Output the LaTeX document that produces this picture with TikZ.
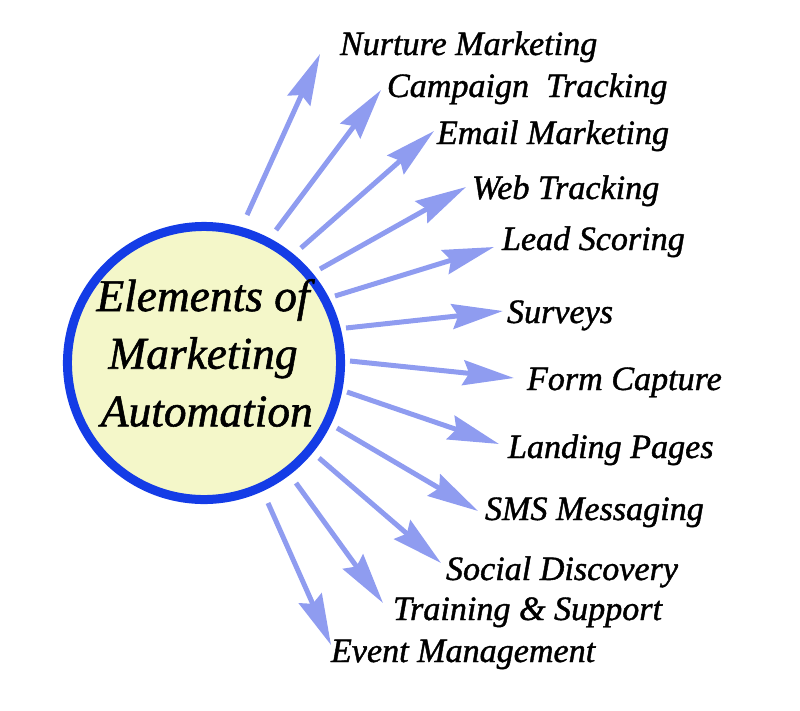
\documentclass[tikz,border=0pt]{standalone}
\usepackage{fontspec}
\setmainfont{Liberation Serif}[ItalicFeatures = {FakeBold = 1.2}]
\usetikzlibrary{arrows.meta}
\definecolor{ringblue}{HTML}{143CE6}
\definecolor{hubfill}{HTML}{F4F7C9}
\definecolor{spokeblue}{HTML}{8F9CF0}
\tikzset{
    hub/.style = {circle, draw = ringblue, fill = hubfill, line width = 0.225cm, minimum size = 6.825cm, inner sep = 0, outer sep = 0},
    hubtext/.style = {inner sep = 0, outer sep = 0, align = center, font = \fontsize{32.3}{41}\selectfont\itshape},
    item/.style = {anchor = base west, inner sep = 0, outer sep = 0, font = \fontsize{24.25}{28}\selectfont\itshape},
    spoke/.style = {spokeblue, line width = 0.125cm, -{Stealth[length = 1.275cm, width = 0.62cm, inset = 0.15cm]}}
}

\begin{document}
\begin{tikzpicture}[x = 0.025cm, y = -0.025cm]
    \useasboundingbox (0, 0) rectangle (800, 710);
    \node[hub] (hub) at (204, 363) {};
    \node[hubtext] (title) at (203, 353) {Elements of\\Marketing\\\,Automation};

    \node[item] (nurture) at (340, 55) {Nurture Marketing};
    \node[item] (campaign) at (387, 97) {Campaign \ Tracking};
    \node[item] (email) at (437, 144) {Email Marketing};
    \node[item] (web) at (472, 199) {Web Tracking};
    \node[item] (lead) at (502, 250) {Lead Scoring};
    \node[item] (surveys) at (507, 323) {Surveys};
    \node[item] (form) at (527, 390) {Form Capture};
    \node[item] (landing) at (508, 458) {Landing Pages};
    \node[item] (sms) at (485, 520) {SMS Messaging};
    \node[item] (social) at (446, 580) {Social Discovery};
    \node[item] (training) at (393, 620) {Training \& Support};
    \node[item] (event) at (331, 662) {Event Management};

    \coordinate (nurtureTail) at (247, 215);
    \coordinate (nurtureTip) at (320, 54);
    \coordinate (campaignTail) at (276, 230);
    \coordinate (campaignTip) at (381, 90);
    \coordinate (emailTail) at (301, 248);
    \coordinate (emailTip) at (434, 131);
    \coordinate (webTail) at (320, 269);
    \coordinate (webTip) at (466, 187);
    \coordinate (leadTail) at (335, 296);
    \coordinate (leadTip) at (494, 247);
    \coordinate (surveysTail) at (346, 328);
    \coordinate (surveysTip) at (503, 311);
    \coordinate (formTail) at (350, 361);
    \coordinate (formTip) at (514, 378);
    \coordinate (landingTail) at (347, 392);
    \coordinate (landingTip) at (499, 444);
    \coordinate (smsTail) at (337, 428);
    \coordinate (smsTip) at (478, 511);
    \coordinate (socialTail) at (319, 458);
    \coordinate (socialTip) at (441, 563);
    \coordinate (trainingTail) at (296, 483);
    \coordinate (trainingTip) at (383, 603);
    \coordinate (eventTail) at (268, 503);
    \coordinate (eventTip) at (331, 645);

    \foreach \spokename in {nurture, campaign, email, web, lead, surveys, form, landing, sms, social, training, event}
        \draw[spoke] (\spokename Tail)--(\spokename Tip);
\end{tikzpicture}
\end{document}
